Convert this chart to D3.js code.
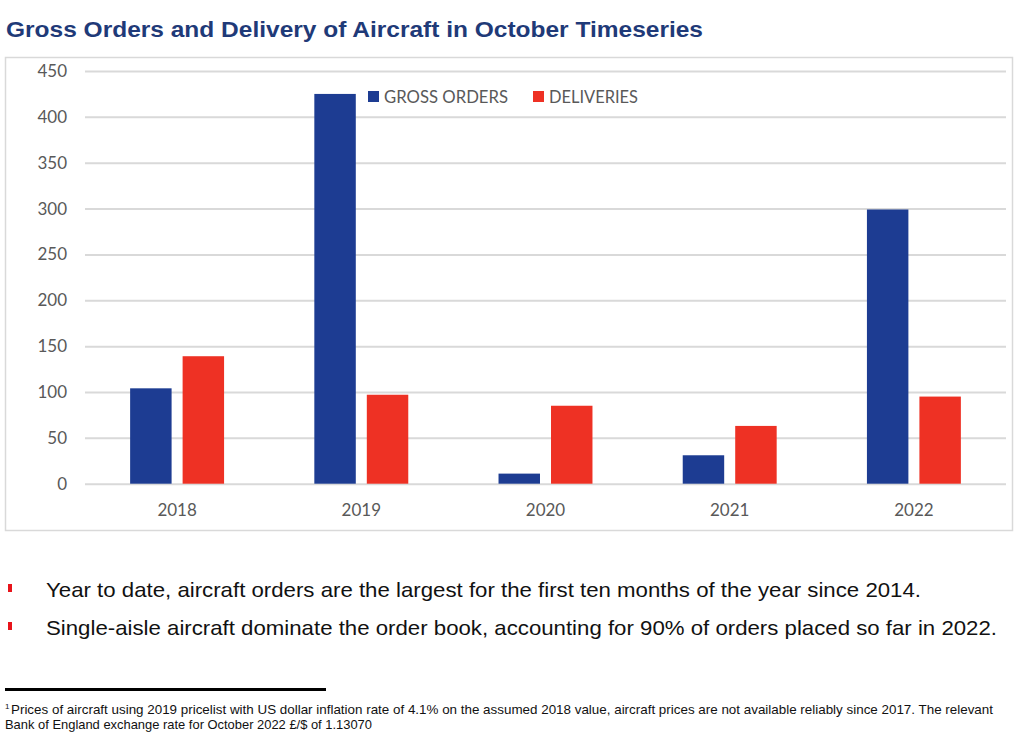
<!DOCTYPE html>
<html><head><meta charset="utf-8">
<script src="https://cdn.jsdelivr.net/npm/d3@7"></script>
<style>body{margin:0;background:#fff}svg{display:block}</style>
</head><body>
<svg id="c" width="1018" height="735"></svg>
<script>
const categories = ["2018","2019","2020","2021","2022"];
const seriesNames = ["GROSS ORDERS","DELIVERIES"];
const grossOrders = [104, 425, 11, 31, 299];
const deliveries = [139, 97, 85, 63, 95];
const yTicks = [0,50,100,150,200,250,300,350,400,450];
const colors = ["#1D3C92","#EE3124"];
const title = "Gross Orders and Delivery of Aircraft in October Timeseries";
const bullets = [
  "Year to date, aircraft orders are the largest for the first ten months of the year since 2014.",
  "Single-aisle aircraft dominate the order book, accounting for 90% of orders placed so far in 2022."
];
const footnote = [
  "Prices of aircraft using 2019 pricelist with US dollar inflation rate of 4.1% on the assumed 2018 value, aircraft prices are not available reliably since 2017. The relevant",
  "Bank of England exchange rate for October 2022 £/$ of 1.13070"
];

const svg = d3.select("#c");
const axisFont = "Lato, 'Open Sans', sans-serif";
const sans = "'Liberation Sans', Arial, sans-serif";

// title
svg.append("text").attr("x",6).attr("y",37)
  .attr("font-family",sans).attr("font-size",22).attr("font-weight","bold")
  .attr("fill","#1F3A78").attr("textLength",697).attr("lengthAdjust","spacingAndGlyphs")
  .text(title);

// chart frame
svg.append("rect").attr("x",5.5).attr("y",57.5).attr("width",1007).attr("height",473)
  .attr("fill","#fff").attr("stroke","#D9D9D9").attr("stroke-width",1.5);

const x0 = d3.scaleBand().domain(categories).range([85,1006]).padding(0);
const bw = x0.bandwidth();
const x1 = d3.scaleBand().domain(seriesNames).range([bw*0.245, bw*0.755]).paddingInner(0.21).paddingOuter(0);
const y = d3.scaleLinear().domain([0,450]).range([483.7,71]);

// grid
const yAxis = d3.axisLeft(y).tickValues(yTicks).tickSize(-(1006-85)).tickPadding(18);
const ga = svg.append("g").attr("transform","translate(85,0)").call(yAxis);
ga.select(".domain").remove();
ga.selectAll(".tick line").attr("stroke","#D9D9D9").attr("stroke-width",2);
ga.selectAll(".tick text").attr("font-family",axisFont).attr("font-size",17).attr("fill","#595959");

// bars
const data = categories.map((c,i)=>({c, vals:[{s:seriesNames[0],v:grossOrders[i]},{s:seriesNames[1],v:deliveries[i]}]}));
const g = svg.append("g").selectAll("g").data(data).join("g")
  .attr("transform",d=>`translate(${x0(d.c)},0)`);
g.selectAll("rect").data(d=>d.vals).join("rect")
  .attr("x",d=>x1(d.s)).attr("width",x1.bandwidth())
  .attr("y",d=>y(d.v)).attr("height",d=>y(0)-y(d.v))
  .attr("fill",(d,i)=>colors[i]);

// x axis
const xa = svg.append("g").attr("transform",`translate(0,${y(0)})`).call(d3.axisBottom(x0).tickSize(0).tickPadding(20));
xa.select(".domain").remove();
xa.selectAll(".tick text").attr("font-family",axisFont).attr("font-size",17).attr("fill","#595959");

// legend
const legX = [368, 533];
const legW = [124, 89];
const lg = svg.append("g");
seriesNames.forEach((s,i)=>{
  lg.append("rect").attr("x",legX[i]).attr("y",91).attr("width",11).attr("height",11).attr("fill",colors[i]);
  lg.append("text").attr("x",legX[i]+16).attr("y",103).attr("font-family",axisFont)
    .attr("font-size",17).attr("fill","#595959").attr("textLength",legW[i]).attr("lengthAdjust","spacingAndGlyphs").text(s);
});

// bullets
const bulletW = [875, 951];
bullets.forEach((b,i)=>{
  const by = 597 + i*38;
  svg.append("rect").attr("x",8).attr("y",by-13).attr("width",4).attr("height",8).attr("fill","#E8141B");
  svg.append("text").attr("x",46).attr("y",by).attr("font-family",sans)
    .attr("font-size",21).attr("fill","#111").attr("textLength",bulletW[i]).attr("lengthAdjust","spacingAndGlyphs").text(b);
});

// footnote rule
const fn = "'Liberation Sans Narrow','Liberation Sans', Arial, sans-serif";
svg.append("rect").attr("x",5).attr("y",688).attr("width",321).attr("height",3).attr("fill","#000");
svg.append("text").attr("x",5).attr("y",709).attr("font-family",fn)
  .attr("font-size",8).attr("fill","#111").text("1");
svg.append("text").attr("x",11).attr("y",714).attr("font-family",fn)
  .attr("font-size",13).attr("fill","#111").attr("textLength",982).attr("lengthAdjust","spacingAndGlyphs").text(footnote[0]);
svg.append("text").attr("x",5).attr("y",729).attr("font-family",fn)
  .attr("font-size",13).attr("fill","#111").attr("textLength",367).attr("lengthAdjust","spacingAndGlyphs").text(footnote[1]);
</script>
</body></html>
